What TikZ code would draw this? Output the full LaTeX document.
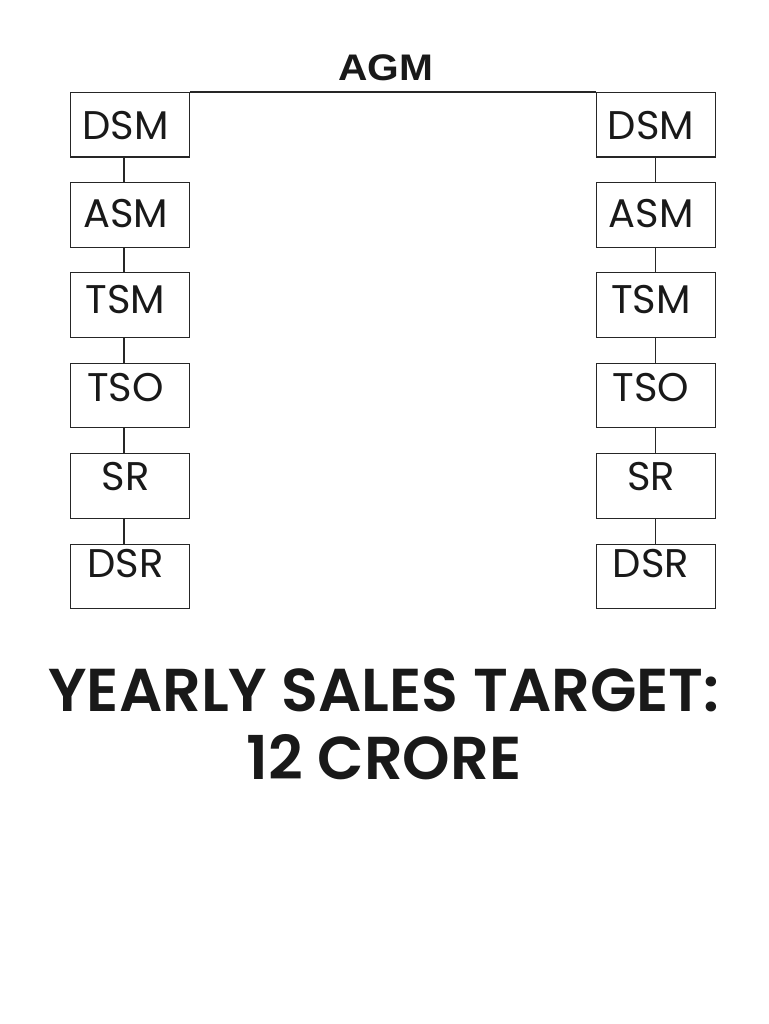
\documentclass[tikz,border=0pt]{standalone}
\usepackage{fontspec}
\setmainfont{Poppins}
\newfontfamily\agmfont{Liberation Sans}
\newfontfamily\semifont{Poppins SemiBold}
\begin{document}
\begin{tikzpicture}[x=1pt,y=-1pt,
  box/.style={draw=black!85,line width=1.2pt,minimum width=119pt,minimum height=64.5pt,inner sep=0pt,anchor=north west},
  lbl/.style={anchor=base,inner sep=0pt,font=\fontsize{40}{42}\selectfont,text=black!90},
  conn/.style={draw=black!85,line width=1.2pt},
  title/.style={anchor=base,inner sep=0pt,font=\semifont\fontsize{60.5}{68}\selectfont,text=black!90}]
\useasboundingbox (0,0) rectangle (768,1024);
% AGM
\node[anchor=base,inner sep=0pt,text=black!90] (agm) at (386,81) {\agmfont\bfseries\fontsize{37}{40}\selectfont\scalebox{1.1}[1]{AGM}};
% boxes
\foreach \n/\y in {1/92,2/182,3/272,4/362.5,5/453,6/543.5}{
  \node[box] (L\n) at (70,\y) {};
  \node[box] (R\n) at (596,\y) {};
}
% labels
\foreach \n/\t/\b in {1/DSM/139.5,2/ASM/227.5,3/TSM/313.5,4/TSO/401.5,5/SR/490.5,6/DSR/577}{
  \node[lbl] (lt\n) at (125.5,\b) {\t};
  \node[lbl] (rt\n) at (651,\b) {\t};
}
% top line
\draw[conn] (L1.north east) -- (R1.north west);
% vertical connectors
\foreach \a/\b in {1/2,2/3,3/4,4/5,5/6}{
  \draw[conn] (L\a.south -| 124,0) -- (L\b.north -| 124,0);
  \draw[conn] (R\a.south -| 655.7,0) -- (R\b.north -| 655.7,0);
}
% title
\node[title] (t1) at (384,711) {YEARLY SALES TARGET:};
\node[title] (t2) at (384,779) {12 CRORE};
\end{tikzpicture}
\end{document}
